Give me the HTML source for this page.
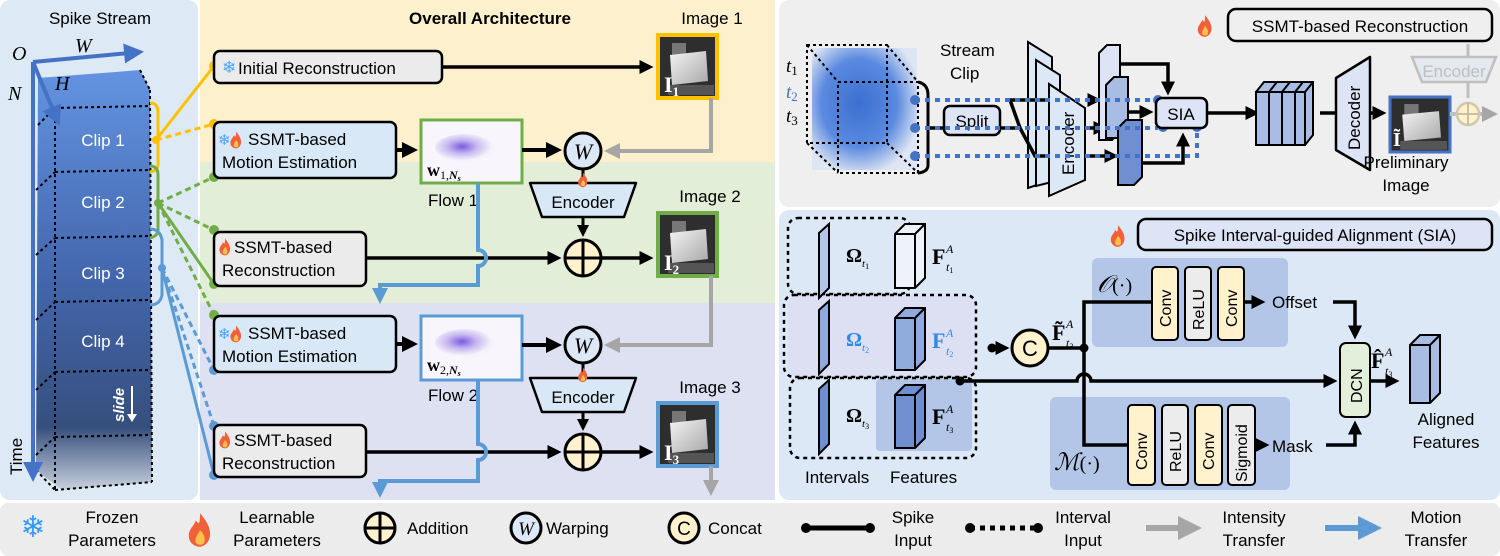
<!DOCTYPE html>
<html><head><meta charset="utf-8"><style>
body{margin:0;background:#fff}
svg{display:block;font-family:"Liberation Sans",sans-serif}
</style></head><body>
<svg width="1500" height="556" viewBox="0 0 1500 556" xmlns="http://www.w3.org/2000/svg">
<defs>
<marker id="ab" markerWidth="4" markerHeight="4" refX="3" refY="2" orient="auto" markerUnits="strokeWidth"><path d="M0,0 L4,2 L0,4 Z" fill="#000"/></marker>
<marker id="ag" markerWidth="4" markerHeight="4" refX="3" refY="2" orient="auto" markerUnits="strokeWidth"><path d="M0,0 L4,2 L0,4 Z" fill="#a6a6a6"/></marker>
<marker id="abl" markerWidth="4" markerHeight="4" refX="3" refY="2" orient="auto" markerUnits="strokeWidth"><path d="M0,0 L4,2 L0,4 Z" fill="#5b9bd5"/></marker>
<marker id="ax" markerWidth="5" markerHeight="5" refX="4" refY="2.5" orient="auto" markerUnits="strokeWidth"><path d="M0,0 L5,2.5 L0,5 Z" fill="#4472c4"/></marker>
<linearGradient id="spk" x1="0" y1="0" x2="0" y2="1"><stop offset="0" stop-color="#5d8fe0"/><stop offset="0.5" stop-color="#3b5fa8"/><stop offset="0.85" stop-color="#2d4777"/><stop offset="1" stop-color="#c8d0dc"/></linearGradient>
<radialGradient id="cube" cx="0.45" cy="0.45" r="0.6"><stop offset="0" stop-color="#3b6fd0"/><stop offset="0.6" stop-color="#5a8ae0"/><stop offset="1" stop-color="#dfe6f3"/></radialGradient>
<linearGradient id="pap" x1="0" y1="0" x2="1" y2="1"><stop offset="0" stop-color="#f4f4f4"/><stop offset="1" stop-color="#a8a8a8"/></linearGradient>
<radialGradient id="flow" cx="0.45" cy="0.45" r="0.5"><stop offset="0" stop-color="#7a5be0"/><stop offset="0.5" stop-color="#c7b8f0"/><stop offset="1" stop-color="#f6f4fb"/></radialGradient>
<g id="flame"><path d="M0,-12 C6,-5 8,0 7,5 C6,10 2,12 0,12 C-4,12 -8,9 -8,4 C-8,-1 -4,-3 -3,-7 C-1,-4 0,-3 0,-12 Z" fill="#f0603a"/><path d="M0,0 C3,3 4,6 3,9 C2,11 -2,11 -3,9 C-4,6 -2,4 0,0 Z" fill="#fcc14a"/></g>
<g id="photo"><rect x="0" y="0" width="59" height="63" fill="#2e2e2e"/><rect x="14" y="8" width="14" height="14" fill="#777"/><polygon points="12,20 48,16 50,46 14,50" fill="url(#pap)"/><rect x="10" y="50" width="46" height="10" fill="#555"/></g>
</defs>

<rect x="0" y="0" width="198" height="500" rx="10" fill="#dde9f5"/>
<rect x="200" y="0" width="575" height="162" fill="#fdf0cc"/>
<rect x="200" y="162" width="575" height="141" fill="#e3eed8"/>
<rect x="200" y="303" width="575" height="197" fill="#dde1f2"/>
<rect x="779" y="0" width="721" height="207" rx="10" fill="#efefef"/>
<rect x="779" y="210" width="721" height="290" rx="10" fill="#dce8f5"/>
<rect x="0" y="503" width="1500" height="53" rx="8" fill="#ececec"/>

<!-- LEFT -->
<text x="100" y="24" font-size="17" text-anchor="middle">Spike Stream</text>
<polygon points="38,78 140,70 150,90 152,482 62,490 36,470" fill="url(#spk)" opacity="0.95"/>
<g stroke="#000" stroke-width="2" stroke-dasharray="3,3" fill="none">
<line x1="140" y1="70" x2="150" y2="90"/>
<line x1="150" y1="90" x2="152" y2="482"/>
<line x1="55" y1="108" x2="150" y2="106"/><line x1="38" y1="125" x2="55" y2="108"/><line x1="55" y1="108" x2="55" y2="490"/>
<line x1="55" y1="172" x2="150" y2="170"/><line x1="36" y1="190" x2="55" y2="172"/>
<line x1="55" y1="238" x2="150" y2="236"/><line x1="36" y1="255" x2="55" y2="238"/>
<line x1="55" y1="302" x2="150" y2="300"/><line x1="36" y1="320" x2="55" y2="302"/>
<line x1="55" y1="372" x2="150" y2="370"/><line x1="36" y1="390" x2="55" y2="372"/>
<line x1="55" y1="437" x2="150" y2="435"/><line x1="36" y1="455" x2="55" y2="437"/>
<line x1="55" y1="490" x2="152" y2="482"/><line x1="36" y1="470" x2="55" y2="490"/>
</g>
<line x1="33" y1="62" x2="140" y2="52" stroke="#4472c4" stroke-width="4" marker-end="url(#ax)"/>
<line x1="33" y1="62" x2="33" y2="478" stroke="#4472c4" stroke-width="4" marker-end="url(#ax)"/>
<line x1="33" y1="62" x2="58" y2="122" stroke="#4472c4" stroke-width="4" marker-end="url(#ax)"/>
<g font-family="Liberation Serif,serif" font-style="italic" font-size="20">
<text x="12" y="60">O</text><text x="75" y="52">W</text><text x="55" y="90">H</text><text x="8" y="100">N</text></g>
<g fill="#fff" font-size="17" text-anchor="middle"><text x="103" y="146">Clip 1</text><text x="103" y="208">Clip 2</text><text x="103" y="279">Clip 3</text><text x="103" y="347">Clip 4</text></g>
<text transform="translate(124,422) rotate(-90)" fill="#fff" font-size="15" font-style="italic" font-weight="bold">slide</text>
<line x1="132" y1="386" x2="132" y2="418" stroke="#fff" stroke-width="2"/><path d="M127,414 L132,422 L137,414Z" fill="#fff"/>
<text transform="translate(22,475) rotate(-90)" font-size="17">Time</text>

<path d="M150,103 Q158,103 158,112 L158,165 Q158,170 150,172" stroke="#ffc000" stroke-width="3" fill="none"/>
<path d="M150,166 Q158,166 158,175 L158,230 Q158,236 150,238" stroke="#70ad47" stroke-width="3" fill="none"/>
<path d="M150,229 Q160,229 162,240 L162,295 Q160,305 150,305" stroke="#5b9bd5" stroke-width="3" fill="none"/>
<line x1="156" y1="140" x2="214" y2="66" stroke="#ffc000" stroke-width="3"/>
<line x1="156" y1="140" x2="214" y2="124" stroke="#ffc000" stroke-width="3" stroke-dasharray="6,4"/>
<circle cx="156" cy="140" r="4" fill="#ffc000"/><circle cx="214" cy="66" r="5" fill="#ffc000"/><circle cx="214" cy="124" r="5" fill="#ffc000"/>
<g stroke="#70ad47" stroke-width="3" fill="none">
<line x1="158" y1="203" x2="214" y2="177" stroke-dasharray="6,4"/><line x1="158" y1="203" x2="214" y2="230" stroke-dasharray="6,4"/>
<line x1="158" y1="203" x2="214" y2="284"/><line x1="158" y1="203" x2="214" y2="315" stroke-dasharray="6,4"/></g>
<g fill="#70ad47"><circle cx="158" cy="203" r="4"/><circle cx="214" cy="177" r="5"/><circle cx="214" cy="230" r="5"/><circle cx="214" cy="284" r="5"/><circle cx="214" cy="315" r="5"/></g>
<g stroke="#5b9bd5" stroke-width="3" fill="none">
<line x1="162" y1="268" x2="214" y2="370" stroke-dasharray="6,4"/><line x1="162" y1="268" x2="214" y2="426" stroke-dasharray="6,4"/><line x1="162" y1="268" x2="214" y2="475"/></g>
<g fill="#5b9bd5"><circle cx="162" cy="268" r="4"/><circle cx="214" cy="370" r="5"/><circle cx="214" cy="426" r="5"/><circle cx="214" cy="475" r="5"/></g>

<!-- MIDDLE -->
<text x="490" y="24" font-size="17" font-weight="bold" text-anchor="middle">Overall Architecture</text>
<text x="712" y="24" font-size="17" text-anchor="middle">Image 1</text>
<text x="710" y="202" font-size="17" text-anchor="middle">Image 2</text>
<text x="710" y="393" font-size="17" text-anchor="middle">Image 3</text>

<rect x="214" y="51" width="228" height="32" rx="6" fill="#ebebeb" stroke="#000" stroke-width="2.5"/>
<text x="222" y="73" font-size="17" fill="#4aa3ff">❄</text><text x="238" y="74" font-size="17">Initial Reconstruction</text>
<line x1="442" y1="67" x2="650" y2="67" stroke="#000" stroke-width="3.5" marker-end="url(#ab)"/>

<use href="#photo" x="658" y="35"/><rect x="658" y="35" width="59" height="63" fill="none" stroke="#ffc000" stroke-width="4"/>
<text x="664" y="92" font-family="Liberation Serif,serif" font-weight="bold" font-size="22" fill="#fff">I<tspan font-size="13" dy="4">1</tspan></text>
<use href="#photo" x="658" y="213"/><rect x="658" y="213" width="59" height="63" fill="none" stroke="#70ad47" stroke-width="4"/>
<text x="664" y="270" font-family="Liberation Serif,serif" font-weight="bold" font-size="22" fill="#fff">I<tspan font-size="13" dy="4">2</tspan></text>
<use href="#photo" x="658" y="403"/><rect x="658" y="403" width="59" height="63" fill="none" stroke="#5b9bd5" stroke-width="4"/>
<text x="664" y="460" font-family="Liberation Serif,serif" font-weight="bold" font-size="22" fill="#fff">I<tspan font-size="13" dy="4">3</tspan></text>

<path d="M711,98 L711,151 L608,151" stroke="#a6a6a6" stroke-width="4" fill="none" marker-end="url(#ag)"/>
<path d="M711,276 L711,345 L608,345" stroke="#a6a6a6" stroke-width="4" fill="none" marker-end="url(#ag)"/>
<line x1="711" y1="466" x2="711" y2="492" stroke="#a6a6a6" stroke-width="4" marker-end="url(#ag)"/>

<rect x="214" y="122" width="182" height="56" rx="6" fill="#d9e8f7" stroke="#000" stroke-width="2.5"/>
<text x="218" y="145" font-size="15" fill="#4aa3ff">❄</text><use href="#flame" transform="translate(236,140) scale(0.7)"/>
<text x="248" y="145" font-size="17">SSMT-based</text><text x="222" y="168" font-size="17">Motion Estimation</text>
<line x1="396" y1="150" x2="414" y2="150" stroke="#000" stroke-width="4" marker-end="url(#ab)"/>
<rect x="421" y="120" width="101" height="63" fill="#f8f6fc" stroke="#70ad47" stroke-width="3"/>
<ellipse cx="465" cy="148" rx="30" ry="14" fill="url(#flow)"/>
<text x="427" y="176" font-family="Liberation Serif,serif" font-weight="bold" font-size="18">w<tspan font-size="12" font-weight="normal" dy="3">1,</tspan><tspan font-size="12" font-style="italic">N</tspan><tspan font-size="8" dy="2" font-style="italic">s</tspan></text>
<text x="428" y="206" font-size="17">Flow 1</text>
<line x1="522" y1="150" x2="558" y2="150" stroke="#000" stroke-width="4" marker-end="url(#ab)"/>
<circle cx="583" cy="151" r="18" fill="#dce8f5" stroke="#000" stroke-width="3"/>
<text x="583" y="159" font-family="Liberation Serif,serif" font-style="italic" font-size="22" text-anchor="middle">W</text>
<line x1="583" y1="169" x2="583" y2="185" stroke="#000" stroke-width="3"/>
<polygon points="530,183 636,183 624,217 542,217" fill="#d9e8f7" stroke="#000" stroke-width="2.5" stroke-linejoin="round"/>
<use href="#flame" transform="translate(583,180) scale(0.6)"/>
<text x="583" y="208" font-size="17" text-anchor="middle">Encoder</text>
<line x1="583" y1="217" x2="583" y2="234" stroke="#000" stroke-width="3" marker-end="url(#ab)"/>
<circle cx="583" cy="258" r="18" fill="#fff2cc" stroke="#000" stroke-width="3"/>
<line x1="565" y1="258" x2="601" y2="258" stroke="#000" stroke-width="3"/><line x1="583" y1="240" x2="583" y2="276" stroke="#000" stroke-width="3"/>
<line x1="601" y1="258" x2="650" y2="258" stroke="#000" stroke-width="3.5" marker-end="url(#ab)"/>

<rect x="214" y="232" width="152" height="54" rx="6" fill="#ebebeb" stroke="#000" stroke-width="2.5"/>
<use href="#flame" transform="translate(225,247) scale(0.7)"/>
<text x="234" y="253" font-size="17">SSMT-based</text><text x="222" y="276" font-size="17">Reconstruction</text>
<line x1="366" y1="258" x2="558" y2="258" stroke="#000" stroke-width="3.5" marker-end="url(#ab)"/>
<path d="M478,183 L478,250 A8,8 0 0 1 478,266 L478,285 L380,285 L380,300" stroke="#5b9bd5" stroke-width="4" fill="none" marker-end="url(#abl)"/>

<rect x="214" y="316" width="182" height="56" rx="6" fill="#d9e8f7" stroke="#000" stroke-width="2.5"/>
<text x="218" y="339" font-size="15" fill="#4aa3ff">❄</text><use href="#flame" transform="translate(236,334) scale(0.7)"/>
<text x="248" y="339" font-size="17">SSMT-based</text><text x="222" y="362" font-size="17">Motion Estimation</text>
<line x1="396" y1="344" x2="414" y2="344" stroke="#000" stroke-width="4" marker-end="url(#ab)"/>
<rect x="421" y="316" width="101" height="64" fill="#f8f6fc" stroke="#5b9bd5" stroke-width="3"/>
<ellipse cx="465" cy="343" rx="30" ry="14" fill="url(#flow)"/>
<text x="427" y="371" font-family="Liberation Serif,serif" font-weight="bold" font-size="18">w<tspan font-size="12" font-weight="normal" dy="3">2,</tspan><tspan font-size="12" font-style="italic">N</tspan><tspan font-size="8" dy="2" font-style="italic">s</tspan></text>
<text x="428" y="401" font-size="17">Flow 2</text>
<line x1="522" y1="345" x2="558" y2="345" stroke="#000" stroke-width="4" marker-end="url(#ab)"/>
<circle cx="583" cy="345" r="18" fill="#dce8f5" stroke="#000" stroke-width="3"/>
<text x="583" y="353" font-family="Liberation Serif,serif" font-style="italic" font-size="22" text-anchor="middle">W</text>
<line x1="583" y1="363" x2="583" y2="379" stroke="#000" stroke-width="3"/>
<polygon points="530,378 636,378 624,412 542,412" fill="#d9e8f7" stroke="#000" stroke-width="2.5" stroke-linejoin="round"/>
<use href="#flame" transform="translate(583,375) scale(0.6)"/>
<text x="583" y="403" font-size="17" text-anchor="middle">Encoder</text>
<line x1="583" y1="412" x2="583" y2="428" stroke="#000" stroke-width="3" marker-end="url(#ab)"/>
<circle cx="583" cy="452" r="18" fill="#fff2cc" stroke="#000" stroke-width="3"/>
<line x1="565" y1="452" x2="601" y2="452" stroke="#000" stroke-width="3"/><line x1="583" y1="434" x2="583" y2="470" stroke="#000" stroke-width="3"/>
<line x1="601" y1="452" x2="650" y2="452" stroke="#000" stroke-width="3.5" marker-end="url(#ab)"/>

<rect x="214" y="425" width="152" height="52" rx="6" fill="#ebebeb" stroke="#000" stroke-width="2.5"/>
<use href="#flame" transform="translate(225,440) scale(0.7)"/>
<text x="234" y="446" font-size="17">SSMT-based</text><text x="222" y="469" font-size="17">Reconstruction</text>
<line x1="366" y1="452" x2="558" y2="452" stroke="#000" stroke-width="3.5" marker-end="url(#ab)"/>
<path d="M478,380 L478,444 A8,8 0 0 1 478,460 L478,481 L380,481 L380,494" stroke="#5b9bd5" stroke-width="4" fill="none" marker-end="url(#abl)"/>

<!-- RIGHT TOP -->
<use href="#flame" transform="translate(1205,26) scale(0.9)"/>
<rect x="1228" y="9" width="264" height="32" rx="8" fill="#efefef" stroke="#000" stroke-width="2.5"/>
<text x="1360" y="32" font-size="17" text-anchor="middle">SSMT-based Reconstruction</text>
<rect x="812" y="48" width="105" height="122" fill="url(#cube)"/>
<g stroke="#000" stroke-width="2" stroke-dasharray="3,3" fill="none">
<rect x="807" y="45" width="80" height="98"/><rect x="838" y="82" width="80" height="91"/>
<line x1="807" y1="45" x2="838" y2="82"/><line x1="887" y1="45" x2="918" y2="82"/><line x1="807" y1="143" x2="838" y2="173"/><line x1="887" y1="143" x2="918" y2="173"/></g>
<path d="M918,82 Q928,84 928,95 L928,165 Q928,172 918,173" stroke="#000" stroke-width="3" fill="none"/>
<g font-family="Liberation Serif,serif" font-style="italic" font-size="19"><text x="786" y="72">t<tspan font-style="normal" font-size="13" dy="3">1</tspan></text><text x="786" y="98" fill="#4472c4">t<tspan font-style="normal" font-size="13" dy="3">2</tspan></text><text x="786" y="122">t<tspan font-style="normal" font-size="13" dy="3">3</tspan></text></g>
<text x="940" y="56" font-size="17">Stream</text><text x="950" y="79" font-size="17">Clip</text>
<polygon points="1028,42 1052,57 1052,180 1028,188" fill="#dce8f5" stroke="#000" stroke-width="2"/>
<polygon points="1036,60 1060,75 1060,180 1036,186" fill="#dce8f5" stroke="#000" stroke-width="2"/>
<polygon points="1049,84 1085,108 1085,180 1049,196" fill="#dce8f5" stroke="#000" stroke-width="2"/>
<text transform="translate(1074,175) rotate(-90)" font-size="17">Encoder</text>
<g stroke="#000" stroke-width="3.5" fill="none">
<line x1="928" y1="128" x2="944" y2="128"/><line x1="1000" y1="128" x2="1020" y2="128"/>
<path d="M1020,128 L1010,100 L1045,100"/><path d="M1020,128 L1035,156 L1048,156"/>
<line x1="1085" y1="100" x2="1098" y2="100" marker-end="url(#ab)"/>
<line x1="1085" y1="128" x2="1104" y2="128" marker-end="url(#ab)"/>
<line x1="1085" y1="156" x2="1115" y2="156" marker-end="url(#ab)"/>
<path d="M1120,64 L1168,64 L1168,92" marker-end="url(#ab)"/>
<line x1="1128" y1="112" x2="1150" y2="112" marker-end="url(#ab)"/>
<path d="M1142,163 L1183,163 L1183,136" marker-end="url(#ab)"/>
<line x1="1207" y1="113" x2="1256" y2="113" marker-end="url(#ab)"/>
<line x1="1320" y1="113" x2="1336" y2="113"/>
<line x1="1368" y1="113" x2="1383" y2="113" marker-end="url(#ab)"/>
</g>
<rect x="944" y="106" width="56" height="29" rx="6" fill="#dce4f5" stroke="#000" stroke-width="2.5"/>
<text x="972" y="127" font-size="17" text-anchor="middle">Split</text>
<polygon points="1099,53 1107,45 1120,45 1120,132 1112,140 1099,140" fill="#dce4f5" stroke="#000" stroke-width="2"/>
<polygon points="1106,85 1114,77 1128,77 1128,130 1120,138 1106,138" fill="#a9bde4" stroke="#000" stroke-width="2"/>
<polygon points="1118,128 1126,120 1142,120 1142,177 1134,185 1118,185" fill="#6f8fd0" stroke="#000" stroke-width="2"/>
<g stroke="#4472c4" stroke-width="4" stroke-dasharray="5,5" fill="none">
<line x1="915" y1="100" x2="1158" y2="100"/><line x1="915" y1="128" x2="1158" y2="128"/>
<path d="M915,156 L1197,156 L1197,128"/></g>
<g fill="#4472c4"><circle cx="915" cy="100" r="5"/><circle cx="915" cy="128" r="5"/><circle cx="915" cy="156" r="5"/><circle cx="1158" cy="100" r="5"/><circle cx="1163" cy="127" r="5"/><circle cx="1197" cy="127" r="5"/></g>
<rect x="1156" y="98" width="51" height="30" rx="6" fill="#dce4f5" stroke="#000" stroke-width="2.5"/>
<text x="1181" y="120" font-size="17" text-anchor="middle">SIA</text>
<g stroke="#000" stroke-width="2" fill="#a9bde4">
<polygon points="1256,92 1264,82 1313,82 1313,135 1305,145 1256,145"/>
<rect x="1256" y="92" width="13" height="53"/><rect x="1269" y="92" width="13" height="53"/><rect x="1282" y="92" width="13" height="53"/><rect x="1295" y="92" width="10" height="53"/>
<path d="M1269,92 L1277,82 M1282,92 L1290,82 M1295,92 L1303,82 M1305,92 L1313,82" fill="none"/></g>
<polygon points="1336,78 1370,57 1370,170 1336,150" fill="#dce4f5" stroke="#000" stroke-width="2.5" stroke-linejoin="round"/>
<text transform="translate(1360,150) rotate(-90)" font-size="17">Decoder</text>
<g transform="translate(1390,97) scale(1.02,0.88)"><use href="#photo"/></g>
<rect x="1390" y="97" width="60" height="55" fill="none" stroke="#4472c4" stroke-width="3"/>
<text x="1393" y="146" font-family="Liberation Serif,serif" font-weight="bold" font-size="20" fill="#fff">Ĩ</text>
<text x="1406" y="168" font-size="17" text-anchor="middle">Preliminary</text><text x="1406" y="191" font-size="17" text-anchor="middle">Image</text>
<line x1="1468" y1="44" x2="1468" y2="57" stroke="#bfbfbf" stroke-width="3"/>
<polygon points="1412,57 1496,57 1486,82 1422,82" fill="#e4e8ef" stroke="#bfbfbf" stroke-width="2.5"/>
<text x="1454" y="77" font-size="17" fill="#bfbfbf" text-anchor="middle">Encoder</text>
<line x1="1468" y1="82" x2="1468" y2="98" stroke="#bfbfbf" stroke-width="3"/>
<line x1="1450" y1="114" x2="1494" y2="114" stroke="#bfbfbf" stroke-width="4" marker-end="url(#ag)"/>
<circle cx="1468" cy="114" r="11" fill="#fff2cc" stroke="#d0c8a8" stroke-width="2.5"/>
<line x1="1457" y1="114" x2="1479" y2="114" stroke="#c9c0a0" stroke-width="2"/><line x1="1468" y1="103" x2="1468" y2="125" stroke="#c9c0a0" stroke-width="2"/>

<!-- RIGHT BOTTOM -->
<use href="#flame" transform="translate(1118,236) scale(0.9)"/>
<rect x="1138" y="219" width="354" height="31" rx="8" fill="#dce4f5" stroke="#000" stroke-width="2.5"/>
<text x="1315" y="241" font-size="17" text-anchor="middle">Spike Interval-guided Alignment (SIA)</text>
<rect x="876" y="379" width="96" height="72" rx="4" fill="#b4c6e7"/>
<rect x="788" y="295" width="188" height="82" rx="10" fill="#dce0f2"/>
<g stroke="#000" stroke-width="2.5" stroke-dasharray="4,4" fill="none">
<rect x="788" y="218" width="122" height="76" rx="10"/>
<rect x="784" y="295" width="192" height="82" rx="10"/>
<rect x="790" y="378" width="186" height="80" rx="10"/></g>
<g stroke="#000" stroke-width="2">
<polygon points="819,233 829,224 829,288 819,298" fill="#b4c6e7"/>
<polygon points="819,310 829,301 829,364 819,374" fill="#8faadc"/>
<polygon points="819,389 829,380 829,444 819,454" fill="#6f8fd0"/>
<polygon points="895,234 905,224 925,224 925,278 915,288 895,288" fill="#eef2fa"/><line x1="895" y1="234" x2="915" y2="234"/><line x1="915" y1="234" x2="925" y2="224"/><line x1="915" y1="234" x2="915" y2="288"/>
<polygon points="895,318 905,308 925,308 925,360 915,370 895,370" fill="#8faadc"/><line x1="895" y1="318" x2="915" y2="318"/><line x1="915" y1="318" x2="925" y2="308"/><line x1="915" y1="318" x2="915" y2="370"/>
<polygon points="895,395 905,385 925,385 925,438 915,448 895,448" fill="#6f8fd0"/><line x1="895" y1="395" x2="915" y2="395"/><line x1="915" y1="395" x2="925" y2="385"/><line x1="915" y1="395" x2="915" y2="448"/>
</g>
<g font-family="Liberation Serif,serif" font-weight="bold" font-size="20">
<text x="846" y="262">Ω<tspan font-size="11" font-style="italic" font-weight="normal" dy="5">t</tspan><tspan font-size="8" font-weight="normal" dy="2">1</tspan></text>
<text x="846" y="346" fill="#2e8ae6">Ω<tspan font-size="11" font-style="italic" font-weight="normal" dy="5">t</tspan><tspan font-size="8" font-weight="normal" dy="2">2</tspan></text>
<text x="846" y="422">Ω<tspan font-size="11" font-style="italic" font-weight="normal" dy="5">t</tspan><tspan font-size="8" font-weight="normal" dy="2">3</tspan></text>
</g>
<g font-family="Liberation Serif,serif" font-weight="bold" font-size="22">
<text x="932" y="264">F</text><text x="932" y="348" fill="#2e8ae6">F</text><text x="932" y="424">F</text></g>
<g font-family="Liberation Serif,serif" font-style="italic" font-size="12">
<text x="946" y="253">A</text><text x="946" y="337" fill="#2e8ae6">A</text><text x="946" y="413">A</text>
<text x="946" y="271">t<tspan font-style="normal" font-size="8" dy="2">1</tspan></text>
<text x="946" y="355" fill="#2e8ae6">t<tspan font-style="normal" font-size="8" dy="2">2</tspan></text>
<text x="946" y="431">t<tspan font-style="normal" font-size="8" dy="2">3</tspan></text></g>
<text x="805" y="483" font-size="17">Intervals</text><text x="890" y="483" font-size="17">Features</text>

<rect x="1092" y="258" width="196" height="89" rx="6" fill="#b4c6e7"/>
<rect x="1050" y="397" width="240" height="93" rx="6" fill="#b4c6e7"/>
<text x="1097" y="292" font-family="Liberation Serif,serif" font-style="italic" font-size="24">𝒪<tspan font-style="normal" font-size="20">(·)</tspan></text>
<text x="1054" y="470" font-family="Liberation Serif,serif" font-style="italic" font-size="24">ℳ<tspan font-style="normal" font-size="20">(·)</tspan></text>

<g stroke="#000" stroke-width="3.5" fill="none">
<line x1="992" y1="348" x2="1006" y2="348" marker-end="url(#ab)"/>
<line x1="1048" y1="348" x2="1084" y2="348"/>
<path d="M1084,348 L1084,302 L1152,302"/>
<path d="M1084,348 L1084,445 L1128,445"/>
<line x1="1244" y1="302" x2="1262" y2="302" marker-end="url(#ab)"/>
<path d="M1333,302 L1355,302 L1355,336" marker-end="url(#ab)"/>
<path d="M960,381 L1077,381 A7,7 0 0 1 1091,381 L1334,381" marker-end="url(#ab)"/>
<line x1="1255" y1="445" x2="1266" y2="445" marker-end="url(#ab)"/>
<path d="M1326,445 L1355,445 L1355,424" marker-end="url(#ab)"/>
<line x1="1370" y1="381" x2="1396" y2="381" marker-end="url(#ab)"/>
</g>
<circle cx="992" cy="348" r="4.5"/><circle cx="960" cy="381" r="4.5"/><circle cx="1084" cy="348" r="4.5"/>
<circle cx="1030" cy="348" r="18" fill="#fff2cc" stroke="#000" stroke-width="3"/>
<text x="1030" y="356" font-size="22" text-anchor="middle">C</text>
<text x="1052" y="340" font-family="Liberation Serif,serif" font-weight="bold" font-size="22">F̃</text>
<text x="1066" y="328" font-family="Liberation Serif,serif" font-style="italic" font-size="12">A</text>
<text x="1066" y="347" font-family="Liberation Serif,serif" font-style="italic" font-size="12">t<tspan font-style="normal" font-size="8" dy="2">3</tspan></text>

<g stroke="#000" stroke-width="2">
<rect x="1152" y="267" width="26" height="73" rx="4" fill="#fff2cc"/><rect x="1185" y="267" width="26" height="73" rx="4" fill="#ececec"/><rect x="1218" y="267" width="26" height="73" rx="4" fill="#fff2cc"/>
<rect x="1128" y="405" width="27" height="80" rx="4" fill="#fff2cc"/><rect x="1162" y="405" width="26" height="80" rx="4" fill="#ececec"/><rect x="1195" y="405" width="27" height="80" rx="4" fill="#fff2cc"/><rect x="1228" y="405" width="27" height="80" rx="4" fill="#ececec"/>
<rect x="1340" y="343" width="30" height="74" rx="6" fill="#e2efda"/>
</g>
<g font-size="16">
<text transform="translate(1171,327) rotate(-90)">Conv</text><text transform="translate(1204,330) rotate(-90)">ReLU</text><text transform="translate(1237,327) rotate(-90)">Conv</text>
<text transform="translate(1147,470) rotate(-90)">Conv</text><text transform="translate(1181,472) rotate(-90)">ReLU</text><text transform="translate(1214,470) rotate(-90)">Conv</text><text transform="translate(1247,482) rotate(-90)">Sigmoid</text>
<text transform="translate(1362,403) rotate(-90)">DCN</text>
</g>
<text x="1272" y="308" font-size="17">Offset</text>
<text x="1272" y="452" font-size="17">Mask</text>
<text x="1371" y="368" font-family="Liberation Serif,serif" font-weight="bold" font-size="22">F̂</text>
<text x="1385" y="356" font-family="Liberation Serif,serif" font-style="italic" font-size="12">A</text>
<text x="1385" y="375" font-family="Liberation Serif,serif" font-style="italic" font-size="12">t<tspan font-style="normal" font-size="8" dy="2">3</tspan></text>
<polygon points="1410,345 1420,335 1440,335 1440,393 1430,403 1410,403" fill="#a9bde4" stroke="#000" stroke-width="2"/><path d="M1410,345 L1430,345 L1440,335 M1430,345 L1430,403" stroke="#000" stroke-width="2" fill="none"/>
<text x="1446" y="425" font-size="17" text-anchor="middle">Aligned</text><text x="1446" y="448" font-size="17" text-anchor="middle">Features</text>

<!-- LEGEND -->
<text x="33" y="537" font-size="30" fill="#3399ff" text-anchor="middle">❄</text>
<text x="112" y="523" font-size="17" text-anchor="middle">Frozen</text><text x="112" y="546" font-size="17" text-anchor="middle">Parameters</text>
<use href="#flame" transform="translate(200,530) scale(1.4)"/>
<text x="277" y="523" font-size="17" text-anchor="middle">Learnable</text><text x="277" y="546" font-size="17" text-anchor="middle">Parameters</text>
<circle cx="380" cy="528" r="15" fill="#fff2cc" stroke="#000" stroke-width="3"/><line x1="365" y1="528" x2="395" y2="528" stroke="#000" stroke-width="3"/><line x1="380" y1="513" x2="380" y2="543" stroke="#000" stroke-width="3"/>
<text x="407" y="534" font-size="17">Addition</text>
<circle cx="526" cy="528" r="15" fill="#dce8f5" stroke="#000" stroke-width="3"/><text x="526" y="535" font-family="Liberation Serif,serif" font-style="italic" font-size="19" text-anchor="middle">W</text>
<text x="546" y="534" font-size="17">Warping</text>
<circle cx="684" cy="528" r="15" fill="#fff2cc" stroke="#000" stroke-width="3"/><text x="684" y="535" font-size="19" text-anchor="middle">C</text>
<text x="708" y="534" font-size="17">Concat</text>
<line x1="806" y1="528" x2="870" y2="528" stroke="#000" stroke-width="5"/><circle cx="806" cy="528" r="5"/><circle cx="870" cy="528" r="5"/>
<text x="913" y="523" font-size="17" text-anchor="middle">Spike</text><text x="913" y="546" font-size="17" text-anchor="middle">Input</text>
<line x1="970" y1="528" x2="1038" y2="528" stroke="#000" stroke-width="5" stroke-dasharray="5,5"/><circle cx="970" cy="528" r="5"/><circle cx="1038" cy="528" r="5"/>
<text x="1083" y="523" font-size="17" text-anchor="middle">Interval</text><text x="1083" y="546" font-size="17" text-anchor="middle">Input</text>
<line x1="1146" y1="528" x2="1196" y2="528" stroke="#a6a6a6" stroke-width="6" marker-end="url(#ag)"/>
<text x="1254" y="523" font-size="17" text-anchor="middle">Intensity</text><text x="1254" y="546" font-size="17" text-anchor="middle">Transfer</text>
<line x1="1325" y1="528" x2="1376" y2="528" stroke="#5b9bd5" stroke-width="6" marker-end="url(#abl)"/>
<text x="1436" y="523" font-size="17" text-anchor="middle">Motion</text><text x="1436" y="546" font-size="17" text-anchor="middle">Transfer</text>
</svg>
</body></html>
